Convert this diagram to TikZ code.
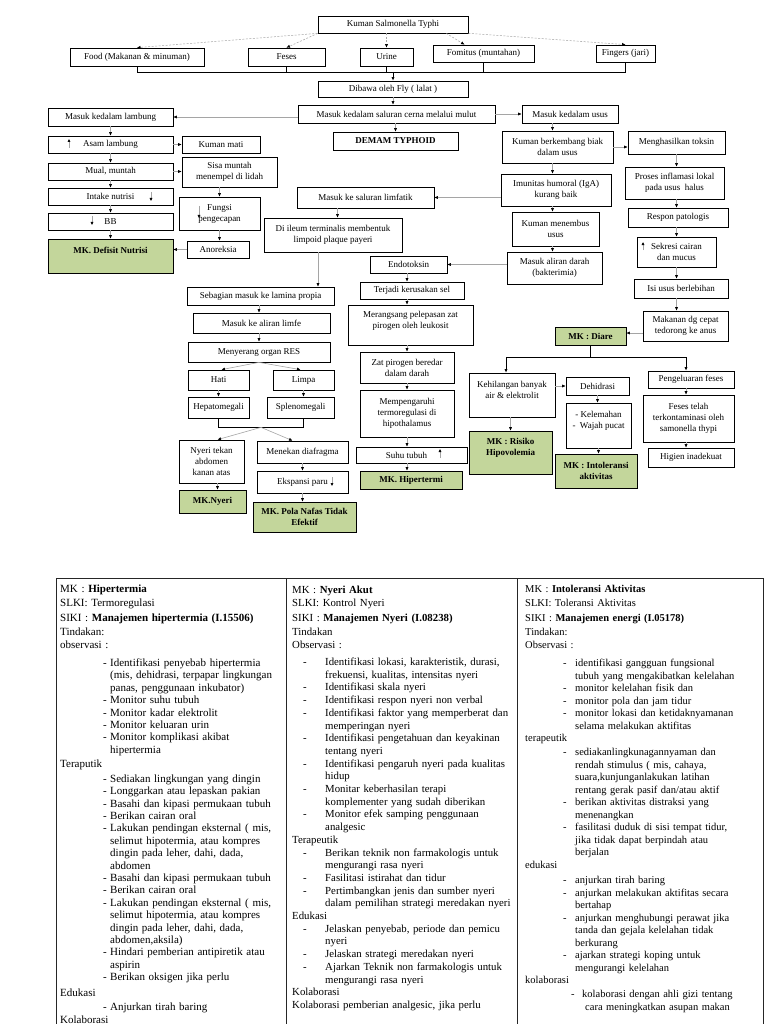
\documentclass[tikz,border=0pt]{standalone}
\usepackage{fontspec}
\setmainfont{Liberation Serif}
\usetikzlibrary{arrows.meta,calc}
\definecolor{mkgreen}{RGB}{195,214,155}
\definecolor{lgray}{RGB}{165,165,165}
\newcommand\dfont{\fontsize{9}{11}\selectfont}
\newcommand\Bx[7][]{\node[bx,#1,minimum width={(#5)-(#3)},minimum height={(#6)-(#4)}] (#2) at ({((#3)+(#5))/2},{((#4)+(#6))/2}) {#7};}
\newcommand\bul[3]{\par{\leftskip=#1pt\noindent\llap{\makebox[#2pt][l]{-}}#3\par}}
\newcommand\hd[2]{\par\vspace{#1pt}\noindent #2\par}
\begin{document}
\begin{tikzpicture}[x=1pt,y=-1pt,
 bx/.style={draw=black,line width=0.7pt,fill=white,inner sep=1pt,align=center,font=\dfont},
 mk/.style={fill=mkgreen,font=\dfont\bfseries},
 arr/.style={draw=lgray,line width=0.6pt,-{Latex[length=3.5pt,width=3.2pt,color=black]}},
 arrb/.style={draw=black,line width=0.7pt,-{Latex[length=3.5pt,width=3.2pt]}},
 blk/.style={draw=black,line width=0.7pt},
 dl/.style={draw=lgray,line width=0.5pt,dash pattern=on 2pt off 1.5pt,-{Latex[length=3.5pt,width=3.2pt,color=black]}},
 ind/.style={draw=lgray,line width=0.5pt,-{Latex[length=3pt,width=3pt,color=black]}},
 tl/.style={anchor=base west,inner sep=0pt,text width=300pt,align=left},
 tbl/.style={draw=black!85,line width=0.8pt}]
\fill[white] (0,0) rectangle (768,1024);
\useasboundingbox (0,0) rectangle (768,1024);

% ---------- boxes ----------
\Bx{kuman}{318}{16}{468}{33}{Kuman Salmonella Typhi}
\Bx{food}{70}{48}{204}{66}{Food (Makanan \& minuman)}
\Bx{feses}{248}{48}{325}{66}{Feses}
\Bx{urine}{360}{48}{413}{66}{Urine}
\Bx{fomitus}{433}{45}{534}{62}{Fomitus (muntahan)}
\Bx{fingers}{596}{45}{655}{62}{Fingers (jari)}
\Bx{dibawa}{318}{81}{468}{97}{Dibawa oleh Fly ( lalat )}
\Bx{cerna}{298}{105}{495}{123}{Masuk kedalam saluran cerna melalui mulut}
\Bx{demam}{333}{132}{458}{150}{\textbf{DEMAM TYPHOID}}
\Bx{lambung}{48}{108}{173}{126}{Masuk kedalam lambung}
\Bx{usus}{522}{105}{618}{123}{Masuk kedalam usus}
\Bx{asam}{48}{136}{173}{153}{Asam lambung}
\Bx{mati}{182}{136}{260}{153}{Kuman mati}
\Bx{mual}{48}{163}{173}{180}{Mual, muntah}
\Bx{sisa}{182}{157}{277}{187}{Sisa muntah\\menempel di lidah}
\Bx{intake}{48}{188}{173}{205}{Intake nutrisi}
\Bx{fungsi}{179}{197}{260}{230}{Fungsi\\pengecapan}
\Bx{bb}{48}{213}{173}{230}{BB}
\Bx[mk]{defisit}{48}{239}{173}{273}{MK. Defisit Nutrisi\\\mbox{}}
\Bx{anoreksia}{187}{241}{249}{258}{Anoreksia}
\Bx{berkembang}{502}{131}{613}{163}{Kuman berkembang biak\\dalam usus}
\Bx{toksin}{628}{131}{725}{154}{Menghasilkan toksin}
\Bx{imunitas}{501}{174}{611}{206}{Imunitas humoral (IgA)\\kurang baik}
\Bx{inflamasi}{625}{167}{724}{199}{Proses inflamasi lokal\\pada usus\ \ halus}
\Bx{respon}{628}{208}{728}{227}{Respon patologis}
\Bx{menembus}{512}{212}{599}{246}{Kuman menembus\\usus}
\Bx{sekresi}{637}{237}{716}{267}{Sekresi cairan\\dan mucus}
\Bx{limfatik}{297}{187}{434}{208}{Masuk ke saluran limfatik}
\Bx{ileum}{264}{218}{402}{252}{Di ileum terminalis membentuk\\limpoid plaque payeri}
\Bx{endotoksin}{370}{256}{447}{273}{Endotoksin}
\Bx{darah}{507}{252}{602}{284}{Masuk aliran darah\\(bakterimia)}
\Bx{isi}{634}{279}{728}{298}{Isi usus berlebihan}
\Bx{makanan}{643}{311}{728}{341}{Makanan dg cepat\\tedorong ke anus}
\Bx[mk]{diare}{555}{327}{626}{345}{MK : Diare}
\Bx{sebagian}{187}{287}{334}{305}{Sebagian masuk ke lamina propia}
\Bx{kerusakan}{360}{282}{464}{299}{Terjadi kerusakan sel}
\Bx{merangsang}{348}{305}{473}{345}{Merangsang pelepasan zat\\pirogen oleh leukosit\\\mbox{}}
\Bx{limfe}{193}{313}{330}{333}{Masuk ke aliran limfe}
\Bx{res}{188}{342}{330}{362}{Menyerang organ RES}
\Bx{hati}{188}{370}{249}{390}{Hati}
\Bx{limpa}{273}{370}{334}{390}{Limpa}
\Bx{hepato}{188}{397}{249}{418}{Hepatomegali}
\Bx{spleno}{267}{397}{334}{418}{Splenomegali}
\Bx{pirogen}{360}{352}{454}{383}{Zat pirogen beredar\\dalam darah}
\Bx{hipo}{360}{390}{454}{437}{Mempengaruhi\\termoregulasi di\\hipothalamus}
\Bx{kehilangan}{469}{373}{555}{417}{Kehilangan banyak\\air \& elektrolit\\\mbox{}}
\Bx{dehidrasi}{566}{377}{629}{395}{Dehidrasi}
\Bx{lemah}{566}{403}{631}{448}{- Kelemahan\\-\ \ Wajah pucat\\\mbox{}}
\Bx{pengeluaran}{648}{371}{734}{388}{Pengeluaran feses}
\Bx{terkontam}{643}{395}{734}{442}{Feses telah\\terkontaminasi oleh\\samonella thypi}
\Bx{higien}{648}{448}{734}{467}{Higien inadekuat}
\Bx{nyeri}{179}{440}{244}{483}{Nyeri tekan\\abdomen\\kanan atas}
\Bx{menekan}{257}{441}{348}{463}{Menekan diafragma}
\Bx{ekspansi}{257}{471}{348}{493}{Ekspansi paru}
\Bx{suhu}{356}{447}{467}{463}{Suhu tubuh\hspace*{10pt}}
\Bx[mk]{mkhiper}{360}{471}{462}{489}{MK. Hipertermi}
\Bx[mk]{risiko}{469}{431}{552}{474}{MK : Risiko\\Hipovolemia\\\mbox{}}
\Bx[mk]{intol}{555}{454}{637}{488}{MK : Intoleransi\\aktivitas}
\Bx[mk]{mknyeri}{179}{490}{246}{513}{MK.Nyeri}
\Bx[mk]{pola}{253}{502}{356}{532}{MK. Pola Nafas Tidak\\Efektif}

% ---------- top connectors ----------
\draw[dl] (kuman.south west) -- (food.north);
\draw[dl] (kuman.south west) -- (feses.north);
\draw[dl] (urine.north |- kuman.south) -- (urine.north);
\draw[dl] ([xshift=-22pt]kuman.south east) -- ([xshift=-19pt]fomitus.north);
\draw[dl] (kuman.south east) -- (fingers.north);
\coordinate (bar) at (0,72);
\draw[blk] (food.south) -- (food.south |- bar) -- (fingers.south |- bar) -- (fingers.south);
\draw[blk] (feses.south) -- (feses.south |- bar);
\draw[blk] (urine.south) -- (urine.south |- bar);
\draw[blk] (fomitus.south) -- (fomitus.south |- bar);
\draw[arrb] (dibawa.north |- bar) -- (dibawa.north);
\draw[arr] (dibawa.south) -- (dibawa.south |- cerna.north);
\draw[arr] (demam.north |- cerna.south) -- (demam.north);
\draw[arr] (cerna.west |- lambung.east) -- (lambung.east);
\draw[arr] (cerna.east) -- (cerna.east -| usus.west);

% ---------- left column ----------
\draw[arr] (lambung.south) -- (asam.north);
\draw[arr] (asam.south) -- (mual.north);
\draw[arr] (mual.south) -- (intake.north);
\draw[arr] (intake.south) -- (bb.north);
\draw[arr] (bb.south) -- (defisit.north);
\draw[arr] (asam.east) -- (asam.east -| mati.west);
\draw[arr] (mual.east) -- (mual.east -| sisa.west);
\draw[arr] (fungsi.north |- sisa.south) -- (fungsi.north);
\draw[arr] (fungsi.south) -- (fungsi.south |- anoreksia.north);
\draw[arr] (anoreksia.west) -- (anoreksia.west -| defisit.east);

% ---------- right column ----------
\coordinate (ux) at ($(berkembang.north)+(-5,0)$);
\draw[arr] (ux |- usus.south) -- (ux |- berkembang.north);
\draw[arr] (ux |- berkembang.south) -- (ux |- imunitas.north);
\draw[arr] (ux |- imunitas.south) -- (ux |- menembus.north);
\draw[arr] (ux |- menembus.south) -- (ux |- darah.north);
\draw[arr] (berkembang.east) -- (berkembang.east -| toksin.west);
\coordinate (tx) at (toksin.south);
\draw[arr] (tx) -- (tx |- inflamasi.north);
\draw[arr] (tx |- inflamasi.south) -- (tx |- respon.north);
\draw[arr] (tx |- respon.south) -- (tx |- sekresi.north);
\draw[arr] (tx |- sekresi.south) -- (tx |- isi.north);
\draw[arr] (tx |- isi.south) -- (tx |- makanan.north);
\coordinate (mw) at ([yshift=-7pt]makanan.west);
\draw[arr] (mw) -- (mw -| diare.east);

% ---------- middle ----------
\draw[arr] (limfatik.east -| imunitas.west) -- (limfatik.east);
\coordinate (lx) at ($(limfatik.south)+(-28,0)$);
\draw[arr] (lx) -- (lx |- ileum.north);
\draw[arr] (endotoksin.east -| darah.west) -- (endotoksin.east);
\coordinate (hx) at (pirogen.north);
\draw[arr] (hx |- endotoksin.south) -- (hx |- kerusakan.north);
\draw[arr] (hx |- kerusakan.south) -- (hx |- merangsang.north);
\draw[arr] (hx |- merangsang.south) -- (hx |- pirogen.north);
\draw[arr] (hx |- pirogen.south) -- (hx |- hipo.north);
\draw[arr] (hx |- hipo.south) -- (hx |- suhu.north);
\draw[arr] (hx |- suhu.south) -- (hx |- mkhiper.north);
\coordinate (ix) at ($(ileum.south)+(-15,0)$);
\draw[arr] (ix) -- (ix |- sebagian.north);
\coordinate (sx) at (res.north);
\draw[arr] (sx |- sebagian.south) -- (sx |- limfe.north);
\draw[arr] (sx |- limfe.south) -- (res.north);
\draw[arr] (res.south) -- ([xshift=3pt]hati.north);
\draw[arr] (res.south) -- ([xshift=-3pt]limpa.north);
\draw[arr] (hati.south) -- (hepato.north);
\coordinate (lpx) at (limpa.south);
\draw[arr] (lpx) -- (lpx |- spleno.north);
\coordinate (brk) at ($(hepato.south)+(0,9)$);
\coordinate (brk2) at (lpx |- brk);
\draw[blk] (hepato.south) -- (brk) -- (brk2) -- (lpx |- spleno.south);
\coordinate (bm) at ($(brk)!0.5!(brk2)$);
\draw[arr] (bm) -- ([xshift=6pt]nyeri.north);
\draw[arr] (bm) -- ([xshift=-10pt]menekan.north);
\coordinate (nx) at ($(nyeri.south)+(6,0)$);
\draw[arr] (nx) -- (nx |- mknyeri.north);
\draw[arr] (menekan.south) -- (ekspansi.north);
\draw[arr] (ekspansi.south) -- (ekspansi.south |- pola.north);

% ---------- diare branch ----------
\coordinate (dbr) at ($(diare.south)+(0,12)$);
\coordinate (k1) at ($(kehilangan.north)+(-6,0)$);
\coordinate (p1) at ($(pengeluaran.north)+(-5,0)$);
\draw[blk] (diare.south) -- (dbr);
\draw[blk] (k1 |- dbr) -- (p1 |- dbr);
\draw[arrb] (k1 |- dbr) -- (k1);
\draw[arrb] (p1 |- dbr) -- (p1);
\draw[arr] (dehidrasi.west -| kehilangan.east) -- (dehidrasi.west);
\draw[arr] (dehidrasi.south) -- (dehidrasi.south |- lemah.north);
\draw[arr] (lemah.south) -- (lemah.south |- intol.north);
\draw[arr] (risiko.north |- kehilangan.south) -- (risiko.north);
\draw[arr] (p1 |- pengeluaran.south) -- (p1 |- terkontam.north);
\draw[arr] (p1 |- terkontam.south) -- (p1 |- higien.north);

% ---------- small up/down indicators ----------
\draw[ind] (69,148) -- (69,139);
\draw[ind] (151,192) -- (151,201);
\draw[ind] (92,216) -- (92,225);
\draw[ind] (199,206) -- (199,218);
\draw[ind] (643,250) -- (643,242);
\draw[ind] (440,458) -- (440,449);
\draw[ind] (332,477) -- (332,486);

% ---------- table ----------
\draw[tbl] (56,1030) -- (56,578) -- (763,578) -- (763,1030);
\draw[tbl] (286,578) -- (286,1030);
\draw[tbl] (517,578) -- (517,1030);

\node[tl,font=\fontsize{11}{12.4}\selectfont] (c1) at (60,592.5) {%
\noindent MK : \textbf{Hipertermia}\par
\hd{1.6}{SLKI: Termoregulasi}
\hd{2.6}{SIKI : \textbf{Manajemen hipertermia (I.15506)}}
\hd{1.6}{Tindakan:}
\hd{0.6}{observasi :}
\vspace{5.6pt}
\bul{50}{7}{Identifikasi penyebab hipertermia\newline (mis, dehidrasi, terpapar lingkungan\newline panas, penggunaan inkubator)}
\bul{50}{7}{Monitor suhu tubuh}
\bul{50}{7}{Monitor kadar elektrolit}
\bul{50}{7}{Monitor keluaran urin}
\bul{50}{7}{Monitor komplikasi akibat\newline hipertermia}
\hd{1.6}{Teraputik}
\vspace{2.6pt}
\bul{50}{7}{Sediakan lingkungan yang dingin}
\bul{50}{7}{Longgarkan atau lepaskan pakian}
\bul{50}{7}{Basahi dan kipasi permukaan tubuh}
\bul{50}{7}{Berikan cairan oral}
\bul{50}{7}{Lakukan pendingan eksternal ( mis,\newline selimut hipotermia, atau kompres\newline dingin pada leher, dahi, dada,\newline abdomen}
\bul{50}{7}{Basahi dan kipasi permukaan tubuh}
\bul{50}{7}{Berikan cairan oral}
\bul{50}{7}{Lakukan pendingan eksternal ( mis,\newline selimut hipotermia, atau kompres\newline dingin pada leher, dahi, dada,\newline abdomen,aksila)}
\bul{50}{7}{Hindari pemberian antipiretik atau\newline aspirin}
\bul{50}{7}{Berikan oksigen jika perlu}
\hd{3.6}{Edukasi}
\vspace{1.6pt}
\bul{50}{7}{Anjurkan tirah baring}
\hd{0}{Kolaborasi}};

\node[tl,font=\fontsize{10.8}{12.7}\selectfont] (c2) at (292,593.5) {%
\noindent MK : \textbf{Nyeri Akut}\par
\hd{0.3}{SLKI: Kontrol Nyeri}
\hd{2.3}{SIKI : \textbf{Manajemen Nyeri (I.08238)}}
\hd{1.3}{Tindakan}
\hd{0.3}{Observasi :}
\vspace{4.3pt}
\bul{33}{22}{Identifikasi lokasi, karakteristik, durasi,\newline frekuensi, kualitas, intensitas nyeri}
\bul{33}{22}{Identifikasi skala nyeri}
\bul{33}{22}{Identifikasi respon nyeri non verbal}
\bul{33}{22}{Identifikasi faktor yang memperberat dan\newline memperingan nyeri}
\bul{33}{22}{Identifikasi pengetahuan dan keyakinan\newline tentang nyeri}
\bul{33}{22}{Identifikasi pengaruh nyeri pada kualitas\newline hidup}
\bul{33}{22}{Monitar keberhasilan terapi\newline komplementer yang sudah diberikan}
\bul{33}{22}{Monitor efek samping penggunaan\newline analgesic}
\hd{0}{Terapeutik}
\bul{33}{22}{Berikan teknik non farmakologis untuk\newline mengurangi rasa nyeri}
\bul{33}{22}{Fasilitasi istirahat dan tidur}
\bul{33}{22}{Pertimbangkan jenis dan sumber nyeri\newline dalam pemilihan strategi meredakan nyeri}
\hd{0}{Edukasi}
\bul{33}{22}{Jelaskan penyebab, periode dan pemicu\newline nyeri}
\bul{33}{22}{Jelaskan strategi meredakan nyeri}
\bul{33}{22}{Ajarkan Teknik non farmakologis untuk\newline mengurangi rasa nyeri}
\hd{0}{Kolaborasi}
\hd{0}{Kolaborasi pemberian analgesic, jika perlu}};

\node[tl,font=\fontsize{10.5}{12.5}\selectfont] (c3) at (525,592.5) {%
\noindent MK : \textbf{Intoleransi Aktivitas}\par
\hd{1.5}{SLKI: Toleransi Aktivitas}
\hd{2.5}{SIKI : \textbf{Manajemen energi (I.05178)}}
\hd{1.5}{Tindakan:}
\hd{0.5}{Observasi :}
\vspace{5.5pt}
\bul{50}{12}{identifikasi gangguan fungsional\newline tubuh yang mengakibatkan kelelahan}
\bul{50}{12}{monitor kelelahan fisik dan}
\bul{50}{12}{monitor pola dan jam tidur}
\bul{50}{12}{monitor lokasi dan ketidaknyamanan\newline selama melakukan aktifitas}
\hd{0}{terapeutik}
\vspace{1.5pt}
\bul{50}{12}{sediakanlingkunagannyaman dan\newline rendah stimulus ( mis, cahaya,\newline suara,kunjunganlakukan latihan\newline rentang gerak pasif dan/atau aktif}
\bul{50}{12}{berikan aktivitas distraksi yang\newline menenangkan}
\bul{50}{12}{fasilitasi duduk di sisi tempat tidur,\newline jika tidak dapat berpindah atau\newline berjalan}
\hd{0.5}{edukasi}
\vspace{2.5pt}
\bul{50}{12}{anjurkan tirah baring}
\bul{50}{12}{anjurkan melakukan aktifitas secara\newline bertahap}
\bul{50}{12}{anjurkan menghubungi perawat jika\newline tanda dan gejala kelelahan tidak\newline berkurang}
\bul{50}{12}{ajarkan strategi koping untuk\newline mengurangi kelelahan}
\hd{0}{kolaborasi}
\vspace{1.5pt}
\bul{57}{11}{kolaborasi dengan ahli gizi tentang\newline\hspace*{3pt}cara meningkatkan asupan makan}};
\end{tikzpicture}
\end{document}
